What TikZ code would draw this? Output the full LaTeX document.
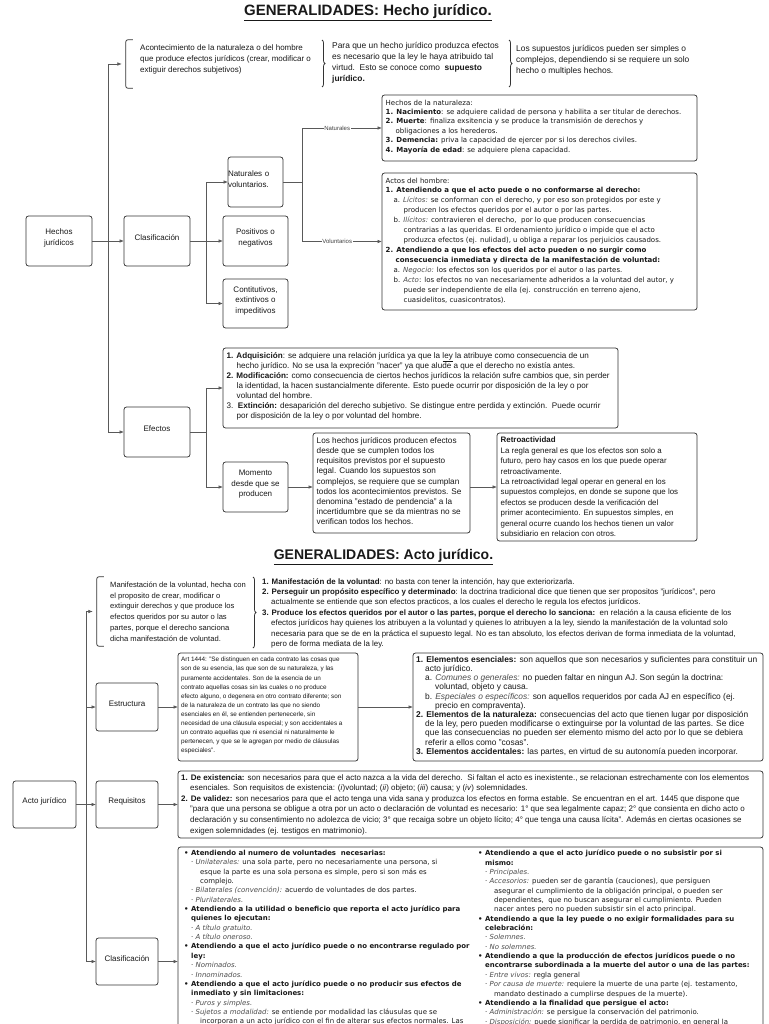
\documentclass[tikz,border=0pt]{standalone}
\usepackage{fontspec}
\setmainfont{Liberation Sans}
\newfontfamily\dv{DejaVu Sans}
\usetikzlibrary{arrows.meta,fit,decorations.pathreplacing}
\newcommand\fsz[2]{\fontsize{#1}{#2}\selectfont}
\newcommand\itg[1]{\textit{\color{black!70}#1}}
\begin{document}
\begin{tikzpicture}[x=1pt,y=-1pt,
 box/.style={draw=black!80, line width=0.75pt, rounded corners=2.5pt, inner sep=0pt, outer sep=0pt},
 arr/.style={draw=black!65, line width=0.7pt, -{Latex[length=4.5pt,width=3.6pt]}},
 ln/.style={draw=black!65, line width=0.7pt},
 brk/.style={draw=black!80, line width=0.75pt, rounded corners=2pt},
 brc/.style={draw=black!80, line width=0.75pt, decorate, decoration={brace, amplitude=3pt}},
 txt/.style={anchor=north west, inner sep=0pt, align=left, text=black!90},
 lab/.style={fill=white, inner sep=0.6pt, font=\fsz{6}{7}, text=black!75},
 ttl/.style={font=\bfseries\fsz{15}{18}, text=black!90},
 sb/.style={box, align=center, font=\fsz{8}{10.5}, text=black!90},
]
\useasboundingbox[fill=white] (0,0) rectangle (768,1024);

% ================= PART 1 =================
\node[ttl] (title1) at (368,13) {\underline{GENERALIDADES: Hecho jurídico.}};

\node[inner sep=0pt, fit={(126,40)(320,88)}] (br1) {};
\draw[brk] ([xshift=7pt]br1.north west) -- (br1.north west) -- (br1.south west) -- ([xshift=7pt]br1.south west);
\node[txt, font=\fsz{8}{11}] (def1) at (140,45) {Acontecimiento de la naturaleza o del hombre\\que produce efectos jurídicos (crear, modificar o\\extiguir derechos subjetivos)};
\draw[brc] (322,40) -- (322,87);
\node[txt, font=\fsz{8.4}{11}] (def2) at (332,42) {Para que un hecho jurídico produzca efectos\\es necesario que la ley le haya atribuido tal\\virtud.\ \ Esto se conoce como \ \textbf{supuesto}\\\textbf{jurídico.}};
\draw[brc] (509,40) -- (509,87);
\node[txt, font=\fsz{8.4}{11}] (def3) at (516,45) {Los supuestos jurídicos pueden ser simples o\\complejos, dependiendo si se requiere un solo\\hecho o multiples hechos.};

\node[sb, fit={(26,216)(92,266)}] (hechos) {Hechos\\jurídicos};
\node[sb, fit={(124,216)(190,266)}] (clas) {Clasificación};
\node[sb, fit={(223,157)(288,207)}, text width=55pt, align=left] (natv) {Naturales o\\voluntarios.};
\node[sb, fit={(223,216)(288,266)}] (posit) {Positivos o\\negativos};
\node[sb, fit={(223,279)(288,328)}] (const) {Contitutivos,\\extintivos o\\impeditivos};

\node[box, fit={(382,95)(697,161)}] (natbox) {};
\node[txt, font=\dv\fsz{7}{9.4}] (nattxt) at (385.5,99.5) {Hechos de la naturaleza:\\
\textbf{1. Nacimiento}: se adquiere calidad de persona y habilita a ser titular de derechos.\\
\textbf{2. Muerte}: finaliza exsitencia y se produce la transmisión de derechos y\\
\hspace*{10pt}obligaciones a los herederos.\\
\textbf{3. Demencia:} priva la capacidad de ejercer por si los derechos civiles.\\
\textbf{4. Mayoría de edad}: se adquiere plena capacidad.};

\node[box, fit={(382,173)(697,310)}] (actbox) {};
\node[txt, font=\dv\fsz{7}{9.95}] (acttxt) at (385.5,177.5) {Actos del hombre:\\
\textbf{1. Atendiendo a que el acto puede o no conformarse al derecho:}\\
\hspace*{8pt}a. \itg{Lícitos:} se conforman con el derecho, y por eso son protegidos por este y\\
\hspace*{18pt}producen los efectos queridos por el autor o por las partes.\\
\hspace*{8pt}b. \itg{Ilícitos:} contravieren el derecho,\ \ por lo que producen consecuencias\\
\hspace*{18pt}contrarias a las queridas. El ordenamiento jurídico o impide que el acto\\
\hspace*{18pt}produzca efectos (ej. nulidad), u obliga a reparar los perjuicios causados.\\
\textbf{2. Atendiendo a que los efectos del acto pueden o no surgir como}\\
\hspace*{10pt}\textbf{consecuencia inmediata y directa de la manifestación de voluntad:}\\
\hspace*{8pt}a. \itg{Negocio:} los efectos son los queridos por el autor o las partes.\\
\hspace*{8pt}b. \itg{Acto}: los efectos no van necesariamente adheridos a la voluntad del autor, y\\
\hspace*{18pt}puede ser independiente de ella (ej. construcción en terreno ajeno,\\
\hspace*{18pt}cuasidelitos, cuasicontratos).};

\node[sb, fit={(124,407)(190,457)}] (efectos) {Efectos};
\node[box, fit={(223,348)(618,428)}] (efbox) {};
\node[txt, font=\fsz{8.1}{10}] (eftxt) at (226.5,352) {\textbf{1. Adquisición}: se adquiere una relación jurídica ya que la \underline{ley} la atribuye como consecuencia de un\\
\hspace*{10pt}hecho jurídico. No se usa la expreción "nacer" ya que alude a que el derecho no existía antes.\\
\textbf{2. Modificación:} como consecuencia de ciertos hechos jurídicos la relación sufre cambios que, sin perder\\
\hspace*{10pt}la identidad, la hacen sustancialmente diferente. Esto puede ocurrir por disposición de la ley o por\\
\hspace*{10pt}voluntad del hombre.\\
3.\ \ \textbf{Extinción:} desaparición del derecho subjetivo. Se distingue entre perdida y extinción.\ \ Puede ocurrir\\
\hspace*{10pt}por disposición de la ley o por voluntad del hombre.};

\node[sb, fit={(223,462)(288,512)}] (momento) {Momento\\desde que se\\producen};
\node[box, fit={(313,433)(470,533)}] (lhbox) {};
\node[txt, font=\fsz{8.2}{10.2}] (lhtxt) at (316.5,437) {Los hechos jurídicos producen efectos\\desde que se cumplen todos los\\requisitos previstos por el supuesto\\legal. Cuando los supuestos son\\complejos, se requiere que se cumplan\\todos los acontecimientos previstos. Se\\denomina "estado de pendencia" a la\\incertidumbre que se da mientras no se\\verifican todos los hechos.};
\node[box, fit={(497,433)(697,541)}] (retbox) {};
\node[txt, font=\fsz{7.9}{10.4}] (rettxt) at (500.5,437) {\textbf{Retroactividad}\\La regla general es que los efectos son solo a\\futuro, pero hay casos en los que puede operar\\retroactivamente.\\La retroactividad legal operar en general en los\\supuestos complejos, en donde se supone que los\\efectos se producen desde la verificación del\\primer acontecimiento. En supuestos simples, en\\general ocurre cuando los hechos tienen un valor\\subsidiario en relacion con otros.};

% connectors part 1
\coordinate (tj) at (108,241);
\draw[arr] (hechos) -- (clas);
\draw[arr] (tj) |- ([xshift=-4pt]br1.west);
\draw[arr] (tj) |- (efectos.west);
\coordinate (cj) at (206,241);
\draw[arr] (clas) -- (posit);
\draw[arr] (cj) |- (natv.west);
\draw[arr] (cj) |- (const.west);
\coordinate (nj) at (302,182);
\draw[ln] (natv.east) -- (nj);
\draw[arr] (nj) |- node[lab, pos=0.72]{Naturales} (natbox.west);
\draw[arr] (nj) |- node[lab, pos=0.72]{Voluntarios} (actbox.west);
\coordinate (ej) at (206,432);
\draw[ln] (efectos.east) -- (ej);
\draw[arr] (ej) |- (efbox.west);
\draw[arr] (ej) |- (momento.west);
\draw[arr] (momento.east) -- (momento.east -| lhbox.west);
\draw[arr] (momento.east -| lhbox.east) -- (momento.east -| retbox.west);

% ================= PART 2 =================
\node[ttl, font=\bfseries\fsz{14}{17}] (title2) at (383.5,557) {\underline{GENERALIDADES: Acto jurídico.}};

\node[inner sep=0pt, fit={(97,577)(250,646)}] (br2) {};
\draw[brk] ([xshift=7pt]br2.north west) -- (br2.north west) -- (br2.south west) -- ([xshift=7pt]br2.south west);
\node[txt, font=\fsz{7.6}{10.8}] (mtxt) at (110,581.5) {Manifestación de la voluntad, hecha con\\el proposito de crear, modificar o\\extinguir derechos y que produce los\\efectos queridos por su autor o las\\partes, porque el derecho sanciona\\dicha manifestación de voluntad.};
\draw[brc] (253,577) -- (253,648);
\node[txt, font=\fsz{7.9}{10.4}] (ltxt) at (262,578) {\textbf{1. Manifestación de la voluntad}: no basta con tener la intención, hay que exteriorizarla.\\
\textbf{2. Perseguir un propósito específico y determinado}: la doctrina tradicional dice que tienen que ser propositos "jurídicos", pero\\
\hspace*{9pt}actualmente se entiende que son efectos practicos, a los cuales el derecho le regula los efectos jurídicos.\\
\textbf{3. Produce los efectos queridos por el autor o las partes, porque el derecho lo sanciona:}\ \ en relación a la causa eficiente de los\\
\hspace*{9pt}efectos jurídicos hay quienes los atribuyen a la voluntad y quienes lo atribuyen a la ley, siendo la manifestación de la voluntad solo\\
\hspace*{9pt}necesaria para que se de en la práctica el supuesto legal. No es tan absoluto, los efectos derivan de forma inmediata de la voluntad,\\
\hspace*{9pt}pero de forma mediata de la ley.};

\node[sb, fit={(13,781)(76,828)}] (acto) {Acto jurídico};
\node[sb, fit={(96,683)(158,731)}] (estr) {Estructura};
\node[sb, fit={(96,781)(158,828)}] (req) {Requisitos};
\node[sb, fit={(96,938)(158,985)}] (clas2) {Clasificación};

\node[box, fit={(178,653)(358,761)}] (artbox) {};
\node[txt, font=\fsz{6.35}{9.1}] (arttxt) at (181,657) {Art 1444: "Se distinguen en cada contrato las cosas que\\son de su esencia, las que son de su naturaleza, y las\\puramente accidentales. Son de la esencia de un\\contrato aquellas cosas sin las cuales o no produce\\efecto alguno, o degenera en otro contrato diferente; son\\de la naturaleza de un contrato las que no siendo\\esenciales en él, se entienden pertenecerle, sin\\necesidad de una cláusula especial; y son accidentales a\\un contrato aquellas que ni esencial ni naturalmente le\\pertenecen, y que se le agregan por medio de cláusulas\\especiales".};

\node[box, fit={(413,653)(763,761)}] (elbox) {};
\node[txt, font=\fsz{8.4}{9.2}] (eltxt) at (416,656) {\textbf{1. Elementos esenciales:} son aquellos que son necesarios y suficientes para constituir un\\
\hspace*{9pt}acto jurídico.\\
\hspace*{9pt}a. \itg{Comunes o generales:} no pueden faltar en ningun AJ. Son según la doctrina:\\
\hspace*{19pt}voluntad, objeto y causa.\\
\hspace*{9pt}b. \itg{Especiales o específicos:} son aquellos requeridos por cada AJ en específico (ej.\\
\hspace*{19pt}precio en compraventa).\\
\textbf{2. Elementos de la naturaleza:} consecuencias del acto que tienen lugar por disposición\\
\hspace*{9pt}de la ley, pero pueden modificarse o extinguirse por la voluntad de las partes. Se dice\\
\hspace*{9pt}que las consecuencias no pueden ser elemento mismo del acto por lo que se debiera\\
\hspace*{9pt}referir a ellos como "cosas".\\
\textbf{3. Elementos accidentales:} las partes, en virtud de su autonomía pueden incorporar.};

\node[box, fit={(178,771)(763,838)}] (reqbox) {};
\node[txt, font=\fsz{8}{10.6}] (reqtxt) at (181,774) {\textbf{1. De existencia:} son necesarios para que el acto nazca a la vida del derecho.\ \ Si faltan el acto es inexistente., se relacionan estrechamente con los elementos\\
\hspace*{9pt}esenciales. Son requisitos de existencia: (\textit{i})voluntad; (\textit{ii}) objeto; (\textit{iii}) causa; y (\textit{iv}) solemnidades.\\
\textbf{2. De validez:} son necesarios para que el acto tenga una vida sana y produzca los efectos en forma estable. Se encuentran en el art. 1445 que dispone que\\
\hspace*{9pt}"para que una persona se obligue a otra por un acto o declaración de voluntad es necesario: 1° que sea legalmente capaz; 2° que consienta en dicho acto o\\
\hspace*{9pt}declaración y su consentimiento no adolezca de vicio; 3° que recaiga sobre un objeto lícito; 4° que tenga una causa lícita". Además en ciertas ocasiones se\\
\hspace*{9pt}exigen solemnidades (ej. testigos en matrimonio).};

\node[box, fit={(178,847)(763,1080)}] (clbox) {};
\node[txt, font=\dv\fsz{6.95}{9.35}] (cl1) at (184,850) {\textbf{• Atendiendo al numero de voluntades\ \ necesarias:}\\
\hspace*{7pt}· \itg{Unilaterales:} una sola parte, pero no necesariamente una persona, si\\
\hspace*{16pt}esque la parte es una sola persona es simple, pero si son más es\\
\hspace*{16pt}complejo.\\
\hspace*{7pt}· \itg{Bilaterales (convención):} acuerdo de voluntades de dos partes.\\
\hspace*{7pt}· \itg{Plurilaterales.}\\
\textbf{• Atendiendo a la utilidad o beneficio que reporta el acto jurídico para}\\
\hspace*{7pt}\textbf{quienes lo ejecutan:}\\
\hspace*{7pt}· \itg{A título gratuito.}\\
\hspace*{7pt}· \itg{A título oneroso.}\\
\textbf{• Atendiendo a que el acto jurídico puede o no encontrarse regulado por}\\
\hspace*{7pt}\textbf{ley:}\\
\hspace*{7pt}· \itg{Nominados.}\\
\hspace*{7pt}· \itg{Innominados.}\\
\textbf{• Atendiendo a que el acto jurídico puede o no producir sus efectos de}\\
\hspace*{7pt}\textbf{inmediato y sin limitaciones:}\\
\hspace*{7pt}· \itg{Puros y simples.}\\
\hspace*{7pt}· \itg{Sujetos a modalidad:} se entiende por modalidad las cláusulas que se\\
\hspace*{16pt}incorporan a un acto jurídico con el fin de alterar sus efectos normales. Las};
\node[txt, font=\dv\fsz{6.95}{9.35}] (cl2) at (478,850) {\textbf{• Atendiendo a que el acto jurídico puede o no subsistir por si}\\
\hspace*{7pt}\textbf{mismo:}\\
\hspace*{7pt}· \itg{Principales.}\\
\hspace*{7pt}· \itg{Accesorios:} pueden ser de garantía (cauciones), que persiguen\\
\hspace*{16pt}asegurar el cumplimiento de la obligación principal, o pueden ser\\
\hspace*{16pt}dependientes,\ \ que no buscan asegurar el cumplimiento. Pueden\\
\hspace*{16pt}nacer antes pero no pueden subsistir sin el acto principal.\\
\textbf{• Atendiendo a que la ley puede o no exigir formalidades para su}\\
\hspace*{7pt}\textbf{celebración:}\\
\hspace*{7pt}· \itg{Solemnes.}\\
\hspace*{7pt}· \itg{No solemnes.}\\
\textbf{• Atendiendo a que la producción de efectos jurídicos puede o no}\\
\hspace*{7pt}\textbf{encontrarse subordinada a la muerte del autor o una de las partes:}\\
\hspace*{7pt}· \itg{Entre vivos:} regla general\\
\hspace*{7pt}· \itg{Por causa de muerte:} requiere la muerte de una parte (ej. testamento,\\
\hspace*{16pt}mandato destinado a cumplirse despues de la muerte).\\
\textbf{• Atendiendo a la finalidad que persigue el acto:}\\
\hspace*{7pt}· \itg{Administración:} se persigue la conservación del patrimonio.\\
\hspace*{7pt}· \itg{Disposición:} puede significar la perdida de patrimonio, en general la};

% connectors part 2
\coordinate (aj) at (86,804.5);
\draw[arr] (acto) -- (req);
\draw[arr] (aj) |- ([xshift=-4pt]br2.west);
\draw[arr] (aj) |- (estr.west);
\draw[arr] (aj) |- (clas2.west);
\draw[arr] (estr) -- (artbox);
\draw[arr] (artbox) -- (elbox);
\draw[arr] (req) -- (reqbox);
\draw[arr] (clas2.east) -- (clas2.east -| clbox.west);
\end{tikzpicture}
\end{document}
